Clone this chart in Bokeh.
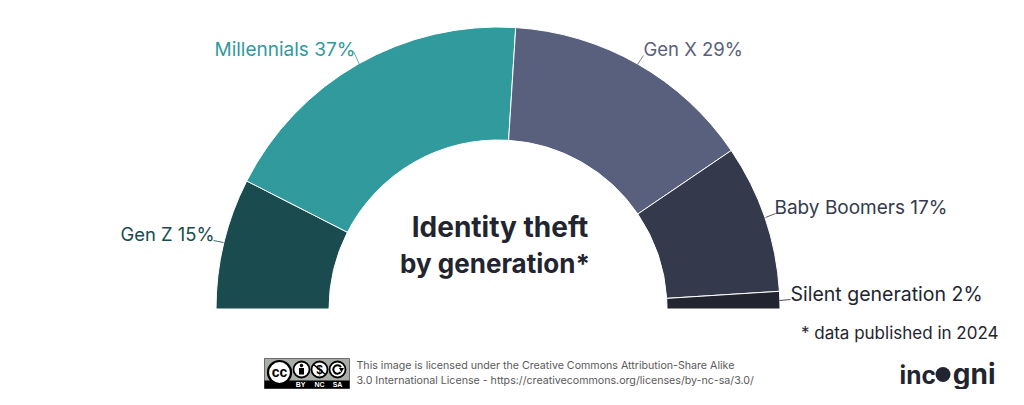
import numpy as np
from bokeh.plotting import figure
from bokeh.models import Label
from bokeh.embed import file_html
from bokeh.resources import INLINE

categories = ["Gen Z", "Millennials", "Gen X", "Baby Boomers", "Silent generation"]
shares = [15, 37, 29, 17, 2]
colors = ["#1A4B4F", "#309A9C", "#59607D", "#343A4C", "#22252F"]
label_pos = [(214, 233.5, "right"), (214, 49, "left"), (643, 48.5, "left"), (774, 207, "left"), (790, 293.5, "left")]
label_sizes = [18.4, 19, 18.5, 19, 19.5]
leaders = [((213, 240), (223, 242)), ((353, 51), (359, 64)), ((643, 55), (637, 64)), ((775, 213), (765, 217)), ((790, 299), (779, 300))]

FONT = "Inter"
W, H = 1008, 389
p = figure(width=W, height=H, x_range=(0, W), y_range=(405 - H, 405),
           output_backend="svg", toolbar_location=None, min_border=0)
p.axis.visible = False
p.grid.visible = False
p.outline_line_color = None

def Y(py):
    return 405 - py

cx, cy, r0, r1 = 497.5, Y(308.5), 169, 282
edges = np.pi - np.cumsum([0] + shares) / sum(shares) * np.pi
p.annular_wedge([cx] * 5, [cy] * 5, r0, r1, edges[1:], edges[:-1], fill_color=colors,
                line_color="#FFFFFF", line_width=1)

for (a, b), c in zip(leaders, colors):
    p.line([a[0], b[0]], [Y(a[1]), Y(b[1])], line_color=c, line_width=1, line_alpha=0.8)

def T(x, y, s, size, color, style="normal", align="left", font=FONT):
    p.add_layout(Label(x=x, y=Y(y), text=s, text_font=font, text_font_size=f"{size}px", text_color=color,
                       text_font_style=style, text_align=align, text_baseline="middle"))

for c, v, (x, y, al), col, sz in zip(categories, shares, label_pos, colors, label_sizes):
    T(x, y, f"{c} {v}%", sz, col, align=al)

T(499.5, 226, "Identity theft", 28, "#22252F", "bold", "center")
T(494.5, 263, "by generation*", 26, "#22252F", "bold", "center")
T(998, 332, "* data published in 2024", 17, "#22252F", align="right")
T(356, 365, "This image is licensed under the Creative Commons Attribution-Share Alike", 10.65, "#5A5A5A")
T(356, 380, "3.0 International License - https://creativecommons.org/licenses/by-nc-sa/3.0/", 10.65, "#5A5A5A")

# CC BY-NC-SA badge
p.quad(left=264, right=349, bottom=Y(388), top=Y(358), fill_color="#A9ADA8", line_color="#000000", line_width=0.5)
p.quad(left=264, right=349, bottom=Y(388), top=Y(380), fill_color="#000000", line_color=None)
p.circle(279, Y(372), radius=11.5, fill_color="#FFFFFF", line_color="#000000", line_width=2.2)
T(279, 371.5, "cc", 14, "#000000", "bold", "center", "Liberation Sans")
for x in (301, 319, 337):
    p.circle(x, Y(369), radius=8, fill_color="#FFFFFF", line_color="#000000", line_width=1.8)
p.circle(301, Y(365), radius=1.7, fill_color="#000000", line_color=None)
p.quad(left=298.5, right=303.5, bottom=Y(374), top=Y(367.5), fill_color="#000000", line_color=None)
T(319, 369, "$", 12, "#000000", "bold", "center", "Liberation Sans")
p.line([313, 325], [Y(364), Y(374)], line_color="#000000", line_width=1.6)
p.arc(337, Y(369), radius=4.2, start_angle=0.6, end_angle=5.6, line_color="#000000", line_width=2)
p.scatter(341, Y(369), size=5, marker="triangle", fill_color="#000000", line_color=None, angle=np.pi)
T(300, 384.2, "BY", 7, "#FFFFFF", "bold", "center", "Liberation Sans")
T(319, 384.2, "NC", 7, "#FFFFFF", "bold", "center", "Liberation Sans")
T(337, 384.2, "SA", 7, "#FFFFFF", "bold", "center", "Liberation Sans")

# incogni logo
T(899, 374, "inc", 24.5, "#22252F", "bold", "left")
p.circle(942.5, Y(374), radius=7.5, fill_color="#22252F", line_color=None)
T(995, 373, "gni", 28, "#22252F", "bold", "right")

open("out.html", "w").write(file_html(p, INLINE))
